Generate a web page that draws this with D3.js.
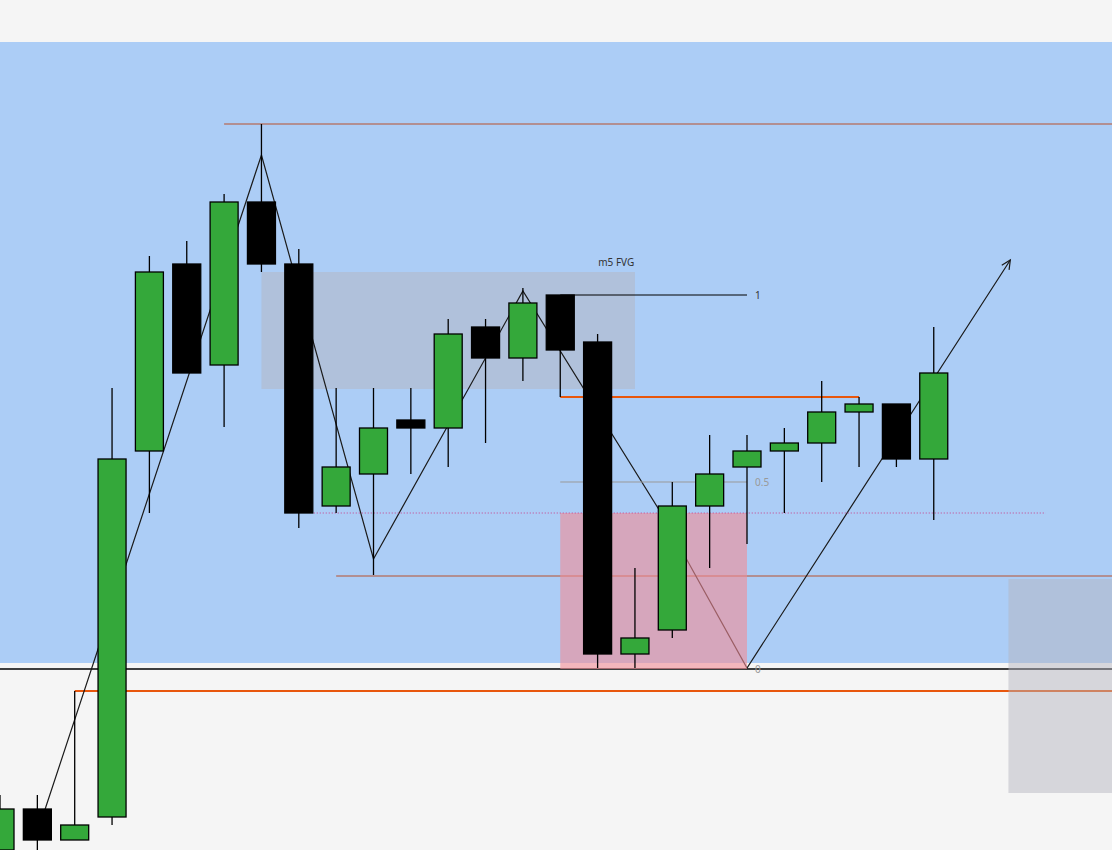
<!DOCTYPE html>
<html>
<head>
<meta charset="utf-8">
<script src="https://cdn.jsdelivr.net/npm/d3@7"></script>
<style>
  body { margin: 0; background: #f5f5f5; }
  svg { display: block; }
  text { font-family: "Noto Sans", sans-serif; }
</style>
</head>
<body>
<svg id="chart"></svg>
<script>
// candles: [open, high, low, close]
const candles = [
  [150, 205, 140, 191], [191, 205, 150, 160], [160, 309, 160, 175], [183, 612, 175, 541],
  [549, 744, 487, 728], [736, 759, 627, 627], [635, 806, 573, 798], [798, 876, 728, 736],
  [736, 751, 472, 487], [494, 612, 487, 533], [526, 612, 425, 572], [580, 612, 526, 572],
  [572, 681, 533, 666], [673, 681, 557, 642], [642, 712, 619, 697], [705, 705, 603, 650],
  [658, 666, 332, 346], [346, 432, 332, 362], [370, 518, 362, 494], [494, 565, 432, 526],
  [533, 565, 456, 549], [549, 572, 487, 557], [557, 619, 518, 588], [588, 603, 533, 596],
  [596, 596, 533, 541], [541, 673, 480, 627]
];
// zigzag swing points [bar index, price]
const swings = [[1.2, 190], [7, 845], [10, 441], [14, 709], [17.65, 490], [20, 332], [27.05, 740]];
// horizontal levels [fromIndex, toIndex, price, colour, width]
const levels = [
  [6, null, 876, "#b57a70", 1.5],
  [9, null, 424, "#b57a70", 1.5],
  [2, null, 309, "#e8560c", 2],
  [15, 23, 603, "#e8560c", 2]
];
const fibLevels = [[705, "1", "#333"], [518, "0.5", "#999"], [331, "0", "#999"]];

const W = 1112, H = 850;
const svg = d3.select("#chart").attr("width", W).attr("height", H);

const x = d3.scaleLinear().domain([0, W / 37.35]).range([0, W]);
const y = d3.scaleLinear().domain([150, 1000]).range([850, 0]);
const bw = 28;

// blue session zone
svg.append("rect").attr("x", 0).attr("width", W)
  .attr("y", y(958)).attr("height", y(337) - y(958)).attr("fill", "#accdf6");

// levels
levels.forEach(l => {
  svg.append("line").attr("x1", x(l[0])).attr("x2", l[1] === null ? W : x(l[1]))
    .attr("y1", y(l[2])).attr("y2", y(l[2]))
    .attr("stroke", l[3]).attr("stroke-width", l[4]);
});
svg.append("line").attr("x1", 0).attr("x2", W).attr("y1", y(331)).attr("y2", y(331))
  .attr("stroke", "#000").attr("stroke-width", 1.5);

// FVG box
svg.append("rect").attr("x", x(7)).attr("width", x(17) - x(7))
  .attr("y", y(728)).attr("height", y(611) - y(728)).attr("fill", "rgba(180,180,190,0.48)");
svg.append("text").attr("x", x(16.5)).attr("y", y(734)).attr("text-anchor", "middle")
  .attr("font-size", 10).attr("fill", "#333").text("m5 FVG");

// zigzag
svg.append("path").attr("d", d3.line().x(d => x(d[0])).y(d => y(d[1]))(swings))
  .attr("fill", "none").attr("stroke", "#1a1a1a").attr("stroke-width", 1.2);
const last = swings[swings.length - 1], prev = swings[swings.length - 2];
const ang = Math.atan2(y(last[1]) - y(prev[1]), x(last[0]) - x(prev[0]));
const ax = x(last[0]), ay = y(last[1]);
svg.append("path").attr("d", `M${ax - 10 * Math.cos(ang - 0.45)},${ay - 10 * Math.sin(ang - 0.45)}L${ax},${ay}L${ax - 10 * Math.cos(ang + 0.45)},${ay - 10 * Math.sin(ang + 0.45)}`)
  .attr("fill", "none").attr("stroke", "#1a1a1a").attr("stroke-width", 1.2);

// pink zone
svg.append("rect").attr("x", x(15)).attr("width", x(20) - x(15))
  .attr("y", y(487)).attr("height", y(331) - y(487)).attr("fill", "rgba(242,140,150,0.6)");

// dotted line
svg.append("line").attr("x1", x(8.4)).attr("x2", x(28)).attr("y1", y(487)).attr("y2", y(487))
  .attr("stroke", "#c8408a").attr("stroke-width", 1).attr("stroke-dasharray", "1,2");

// fib lines
fibLevels.forEach(f => {
  if (f[1] !== "0") {
    svg.append("line").attr("x1", x(15)).attr("x2", x(20)).attr("y1", y(f[0])).attr("y2", y(f[0]))
      .attr("stroke", f[1] === "1" ? "#000" : "#999").attr("stroke-width", 1);
  }
  svg.append("text").attr("x", x(20) + 8).attr("y", y(f[0]) + 4)
    .attr("font-size", 10).attr("fill", f[2]).text(f[1]);
});

// candles
const g = svg.append("g").selectAll("g").data(candles).join("g");
g.append("line").attr("x1", (d, i) => x(i)).attr("x2", (d, i) => x(i))
  .attr("y1", d => y(d[1])).attr("y2", d => y(d[2]))
  .attr("stroke", "#000").attr("stroke-width", 1.3);
g.append("rect").attr("x", (d, i) => x(i) - bw / 2).attr("width", bw)
  .attr("y", d => y(Math.max(d[0], d[3])))
  .attr("height", d => Math.max(1, Math.abs(y(d[0]) - y(d[3]))))
  .attr("fill", d => d[3] >= d[0] ? "#34a83a" : "#000")
  .attr("stroke", "#000").attr("stroke-width", 1.3);

// right grey zone
svg.append("rect").attr("x", x(27)).attr("width", W - x(27))
  .attr("y", y(421)).attr("height", y(207) - y(421)).attr("fill", "rgba(180,180,190,0.48)");
</script>
</body>
</html>
